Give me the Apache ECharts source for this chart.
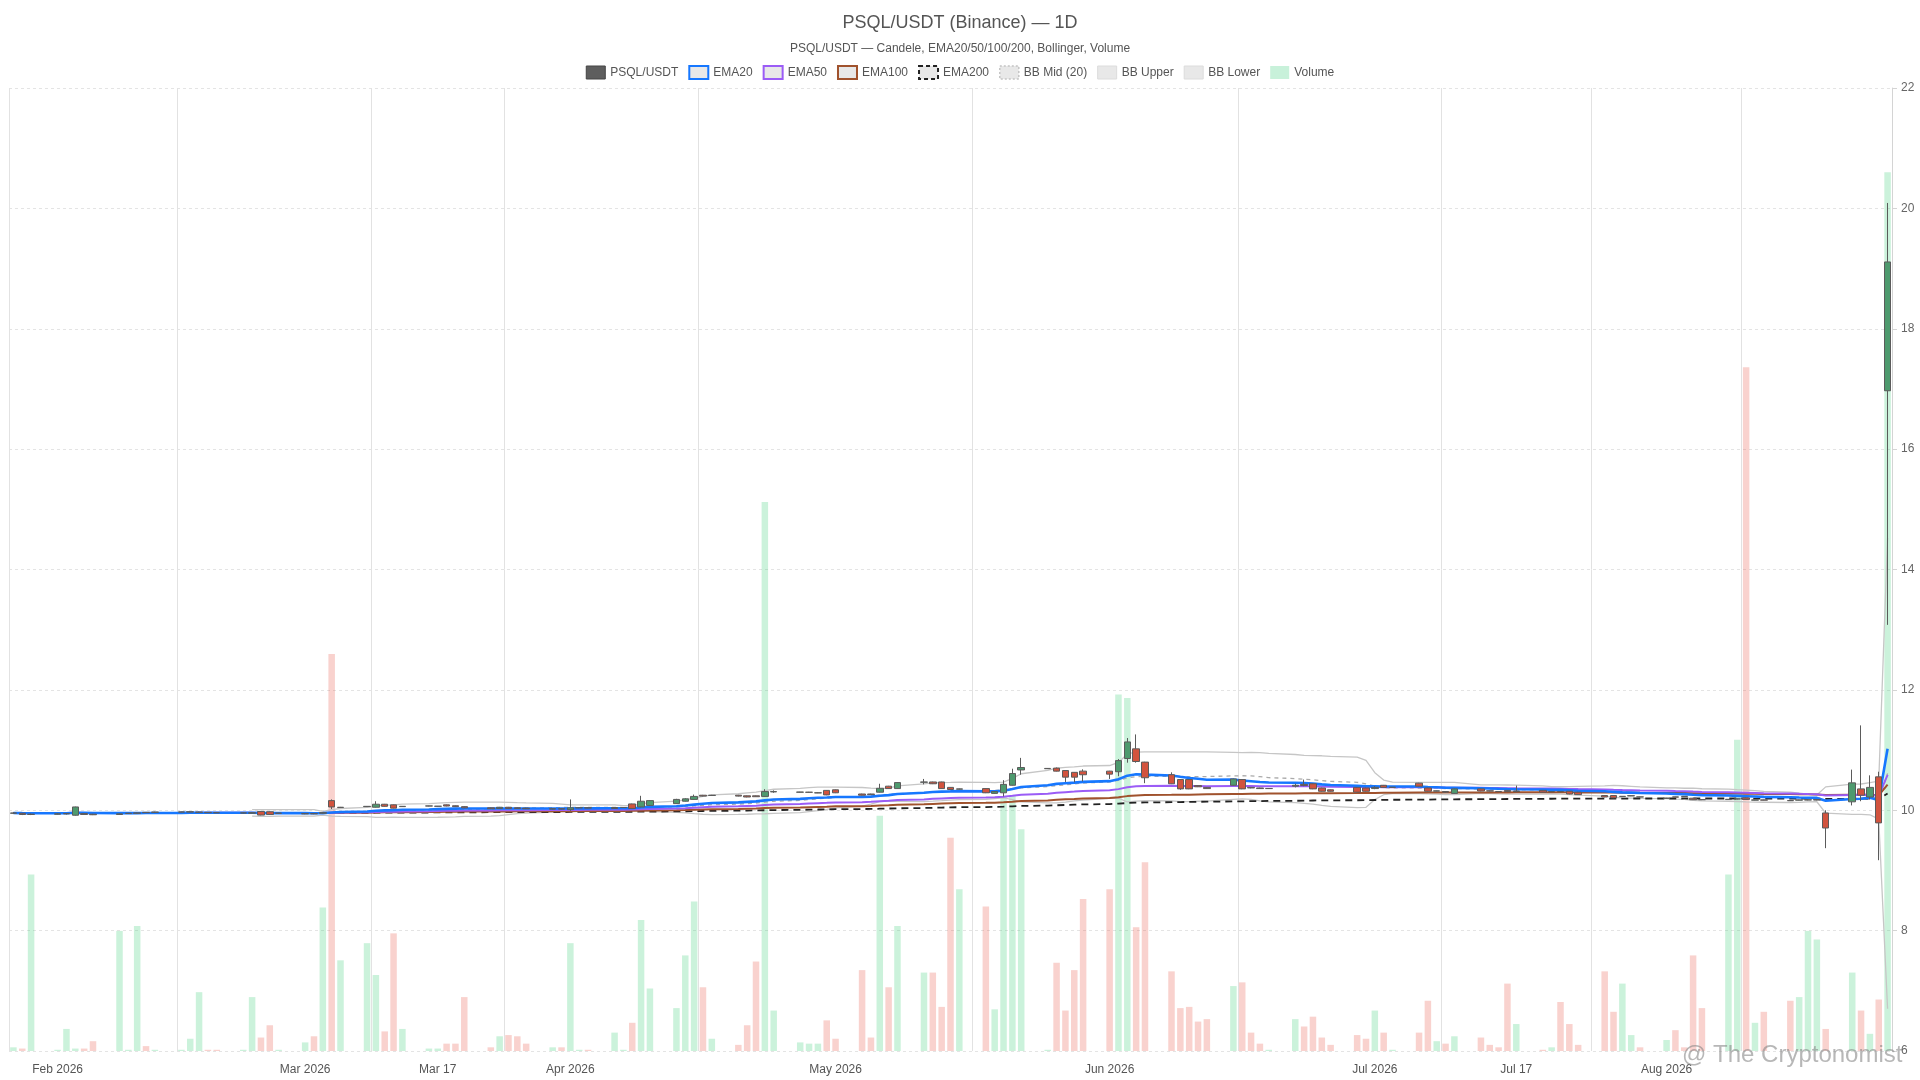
<!DOCTYPE html>
<html><head><meta charset="utf-8">
<script src="https://cdn.jsdelivr.net/npm/echarts@6/dist/echarts.min.js"></script>
<style>html,body{margin:0;padding:0;background:#fff}#chart{width:1920px;height:1080px}</style>
</head><body><div id="chart"></div>
<script>
// [date, open, close, low, high]
const ohlc = [
['2026-01-28',9.95,9.955,9.94,9.965],['2026-01-29',9.95,9.93,9.92,9.955],['2026-01-30',9.93,9.935,9.92,9.945],
['2026-02-02',9.935,9.94,9.93,9.95],['2026-02-03',9.94,9.945,9.93,9.95],['2026-02-04',9.917,10.055,9.91,10.06],['2026-02-05',9.945,9.93,9.925,9.95],['2026-02-06',9.935,9.925,9.92,9.94],
['2026-02-09',9.93,9.94,9.925,9.945],['2026-02-10',9.945,9.95,9.94,9.955],['2026-02-11',9.95,9.955,9.945,9.96],['2026-02-12',9.965,9.96,9.955,9.97],['2026-02-13',9.965,9.97,9.96,9.975],
['2026-02-16',9.97,9.972,9.965,9.975],['2026-02-17',9.97,9.975,9.965,9.98],['2026-02-18',9.965,9.97,9.96,9.975],['2026-02-19',9.965,9.96,9.955,9.97],['2026-02-20',9.96,9.958,9.955,9.965],
['2026-02-23',9.955,9.956,9.95,9.96],['2026-02-24',9.95,9.96,9.945,9.965],['2026-02-25',9.98,9.92,9.915,9.985],['2026-02-26',9.975,9.93,9.925,9.98],['2026-02-27',9.95,9.952,9.945,9.955],
['2026-03-02',9.94,9.945,9.935,9.95],['2026-03-03',9.945,9.94,9.935,9.95],['2026-03-04',9.95,9.96,9.945,9.965],['2026-03-05',10.16,10.055,10.02,10.18],['2026-03-06',10.045,10.05,10.04,10.055],
['2026-03-09',10.06,10.065,10.055,10.07],['2026-03-10',10.05,10.10,10.045,10.15],['2026-03-11',10.10,10.065,10.06,10.105],['2026-03-12',10.09,10.035,10.03,10.095],['2026-03-13',10.06,10.065,10.055,10.07],
['2026-03-16',10.07,10.072,10.065,10.075],['2026-03-17',10.065,10.068,10.06,10.07],['2026-03-18',10.09,10.07,10.065,10.095],['2026-03-19',10.075,10.06,10.055,10.08],['2026-03-20',10.06,10.04,10.035,10.065],
['2026-03-23',10.04,10.025,10.02,10.045],['2026-03-24',10.03,10.05,10.025,10.055],['2026-03-25',10.05,10.03,10.025,10.055],['2026-03-26',10.04,10.03,10.025,10.045],['2026-03-27',10.035,10.025,10.02,10.04],
['2026-03-30',10.02,10.025,10.015,10.03],['2026-03-31',10.025,10.02,10.015,10.03],['2026-04-01',10.01,10.04,9.99,10.18],['2026-04-02',10.04,10.042,10.035,10.05],['2026-04-03',10.04,10.038,10.035,10.045],
['2026-04-06',10.03,10.045,10.025,10.05],['2026-04-07',10.045,10.046,10.04,10.05],['2026-04-08',10.105,10.03,10.025,10.11],['2026-04-09',10.055,10.15,10.05,10.24],['2026-04-10',10.08,10.16,10.075,10.17],
['2026-04-13',10.11,10.18,10.105,10.19],['2026-04-14',10.15,10.19,10.145,10.20],['2026-04-15',10.18,10.23,10.175,10.26],['2026-04-16',10.25,10.235,10.23,10.255],['2026-04-17',10.245,10.25,10.24,10.255],
['2026-04-20',10.25,10.235,10.23,10.255],['2026-04-21',10.24,10.22,10.215,10.245],['2026-04-22',10.24,10.225,10.22,10.245],['2026-04-23',10.23,10.31,10.225,10.35],['2026-04-24',10.305,10.31,10.29,10.33],
['2026-04-27',10.30,10.302,10.295,10.305],['2026-04-28',10.298,10.30,10.295,10.305],['2026-04-29',10.288,10.29,10.285,10.295],['2026-04-30',10.33,10.255,10.25,10.335],['2026-05-01',10.34,10.29,10.285,10.345],
['2026-05-04',10.27,10.25,10.245,10.275],['2026-05-05',10.27,10.26,10.255,10.275],['2026-05-06',10.30,10.365,10.295,10.44],['2026-05-07',10.40,10.36,10.355,10.405],['2026-05-08',10.36,10.46,10.355,10.465],
['2026-05-11',10.465,10.47,10.43,10.52],['2026-05-12',10.47,10.44,10.435,10.475],['2026-05-13',10.47,10.36,10.355,10.475],['2026-05-14',10.38,10.345,10.34,10.385],['2026-05-15',10.35,10.355,10.345,10.36],
['2026-05-18',10.36,10.29,10.285,10.365],['2026-05-19',10.28,10.31,10.275,10.315],['2026-05-20',10.29,10.43,10.23,10.50],['2026-05-21',10.415,10.61,10.41,10.69],['2026-05-22',10.67,10.71,10.59,10.87],
['2026-05-25',10.69,10.695,10.685,10.70],['2026-05-26',10.70,10.65,10.645,10.71],['2026-05-27',10.66,10.55,10.47,10.665],['2026-05-28',10.63,10.55,10.465,10.635],['2026-05-29',10.65,10.59,10.48,10.68],
['2026-06-01',10.65,10.60,10.52,10.655],['2026-06-02',10.64,10.825,10.565,10.85],['2026-06-03',10.86,11.135,10.79,11.20],['2026-06-04',11.02,10.81,10.79,11.26],['2026-06-05',10.80,10.54,10.45,10.805],
['2026-06-08',10.59,10.44,10.435,10.63],['2026-06-09',10.51,10.355,10.34,10.515],['2026-06-10',10.51,10.355,10.35,10.515],['2026-06-11',10.41,10.39,10.385,10.415],['2026-06-12',10.38,10.36,10.355,10.385],
['2026-06-15',10.415,10.52,10.41,10.525],['2026-06-16',10.51,10.355,10.35,10.515],['2026-06-17',10.38,10.37,10.365,10.385],['2026-06-18',10.37,10.36,10.355,10.375],['2026-06-19',10.36,10.362,10.355,10.365],
['2026-06-22',10.40,10.415,10.38,10.44],['2026-06-23',10.43,10.41,10.40,10.51],['2026-06-24',10.44,10.355,10.35,10.445],['2026-06-25',10.37,10.315,10.31,10.375],['2026-06-26',10.34,10.315,10.31,10.345],
['2026-06-29',10.38,10.30,10.295,10.385],['2026-06-30',10.37,10.315,10.31,10.375],['2026-07-01',10.36,10.38,10.35,10.40],['2026-07-02',10.415,10.38,10.375,10.42],['2026-07-03',10.38,10.382,10.375,10.385],
['2026-07-06',10.45,10.40,10.395,10.455],['2026-07-07',10.37,10.315,10.31,10.375],['2026-07-08',10.318,10.322,10.315,10.325],['2026-07-09',10.31,10.30,10.295,10.315],['2026-07-10',10.28,10.355,10.275,10.36],
['2026-07-13',10.355,10.32,10.315,10.36],['2026-07-14',10.322,10.32,10.315,10.325],['2026-07-15',10.312,10.31,10.305,10.315],['2026-07-16',10.33,10.31,10.305,10.335],['2026-07-17',10.31,10.32,10.30,10.41],
['2026-07-20',10.33,10.30,10.295,10.335],['2026-07-21',10.308,10.31,10.305,10.315],['2026-07-22',10.312,10.308,10.30,10.315],['2026-07-23',10.315,10.27,10.265,10.32],['2026-07-24',10.30,10.26,10.255,10.305],
['2026-07-27',10.245,10.22,10.215,10.25],['2026-07-28',10.245,10.205,10.20,10.25],['2026-07-29',10.228,10.232,10.225,10.235],['2026-07-30',10.238,10.242,10.235,10.245],['2026-07-31',10.222,10.22,10.215,10.225],
['2026-08-03',10.198,10.202,10.195,10.205],['2026-08-04',10.222,10.218,10.215,10.225],['2026-08-05',10.232,10.228,10.225,10.235],['2026-08-06',10.20,10.175,10.17,10.205],['2026-08-07',10.177,10.175,10.17,10.18],
['2026-08-10',10.178,10.182,10.175,10.185],['2026-08-11',10.186,10.19,10.18,10.195],['2026-08-12',10.205,10.18,10.175,10.21],['2026-08-13',10.168,10.172,10.165,10.175],['2026-08-14',10.172,10.168,10.165,10.175],
['2026-08-17',10.162,10.158,10.155,10.165],['2026-08-18',10.168,10.172,10.165,10.175],['2026-08-19',10.17,10.174,10.165,10.178],['2026-08-20',10.17,10.175,10.165,10.18],['2026-08-21',9.955,9.705,9.37,10.0],
['2026-08-24',10.14,10.455,10.08,10.675],['2026-08-25',10.355,10.25,10.15,11.41],['2026-08-26',10.22,10.38,10.18,10.58],['2026-08-27',10.555,9.79,9.17,10.64],['2026-08-28',16.97,19.11,13.08,20.09]
];
// volume (thousands), same order as ohlc
const volumes = [
3,2,144,
1,18,2,2,8, 98,1,102,4,1, 1,10,48,1,1, 1,44,11,21,1,
7,12,117,324,74, 88,62,16,96,18, 2,2,6,6,44, 3,12,13,12,6,
3,3,88,1,1, 15,1,23,107,51, 35,78,122,52,10, 5,21,73,448,33,
7,6,6,25,10, 66,11,192,52,102, 64,64,36,174,132, 118,34,207,208,181,
1,72,33,66,124, 132,291,288,101,154, 65,35,36,24,26, 53,56,15,6,1,
26,20,28,11,5, 13,10,33,15,1, 15,41,8,6,12, 11,5,3,55,22,
1,3,40,22,5, 65,32,55,13,3, 9,17,3,78,35, 144,254,558,23,32,
41,44,98,91,18, 64,33,14,42,717
];
const tickDates = ['2026-02-02','2026-03-02','2026-03-17','2026-04-01','2026-05-01','2026-06-01','2026-07-01','2026-07-17','2026-08-03'];
const tickTexts = ['Feb 2026','Mar 2026','Mar 17','Apr 2026','May 2026','Jun 2026','Jul 2026','Jul 17','Aug 2026'];
const gridLineDates = ['2026-01-28','2026-02-16','2026-03-10','2026-03-25','2026-04-16','2026-05-17','2026-06-16','2026-07-09','2026-07-26','2026-08-12'];

// calendar categories from first to last date
const categories = [];
(function(){
  const d = new Date(ohlc[0][0] + 'T00:00:00Z');
  const end = new Date(ohlc[ohlc.length-1][0] + 'T00:00:00Z');
  while (d <= end) { categories.push(d.toISOString().slice(0,10)); d.setUTCDate(d.getUTCDate()+1); }
})();
const rowIdx = new Map(ohlc.map((r,i)=>[r[0],i]));
const closes = ohlc.map(r=>r[2]);

function ema(vals, n){ const k=2/(n+1); let p=vals[0]; return vals.map((v,i)=>{ if(i===0) return v; p = v*k + p*(1-k); return p; }); }
function boll(vals, n, m){
  const mid=[], up=[], lo=[];
  vals.forEach((v,i)=>{
    if(i<n-1){mid.push(null);up.push(null);lo.push(null);return;}
    const w=vals.slice(i-n+1,i+1); const mean=w.reduce((a,b)=>a+b,0)/n;
    const sd=Math.sqrt(w.reduce((a,b)=>a+(b-mean)*(b-mean),0)/n);
    mid.push(mean); up.push(mean+m*sd); lo.push(mean-m*sd);
  });
  return {mid,up,lo};
}
const toCat = arr => categories.map(d => { const i=rowIdx.get(d); return (i===undefined||arr[i]==null)?'-':+arr[i].toFixed(4); });

const candleData = categories.map(d => { const i=rowIdx.get(d); if(i===undefined) return ['-','-','-','-']; const r=ohlc[i]; return [r[1],r[2],r[3],r[4]]; });
const volData = categories.map(d => { const i=rowIdx.get(d); if(i===undefined) return '-'; const r=ohlc[i];
  return {value: volumes[i], itemStyle:{color: r[2]>=r[1] ? 'rgba(46,204,113,0.25)' : 'rgba(231,76,60,0.25)'}}; });
const bb = boll(closes,20,2);

const FONT = '"Liberation Sans", Arial, Helvetica, sans-serif';
const chart = echarts.init(document.getElementById('chart'));
const lineBase = {type:'line', showSymbol:false, symbol:'none', connectNulls:true, silent:true, z:4};
chart.setOption({
  animation:false,
  backgroundColor:'#fff',
  textStyle:{fontFamily:FONT},
  title:{text:'PSQL/USDT (Binance) — 1D', subtext:'PSQL/USDT — Candele, EMA20/50/100/200, Bollinger, Volume',
    left:'center', top:9, itemGap:11,
    textStyle:{fontSize:18, fontWeight:'normal', color:'#555', fontFamily:FONT},
    subtextStyle:{fontSize:12, color:'#555', fontFamily:FONT}},
  legend:{top:60, left:'center', itemWidth:19, itemHeight:13, itemGap:10,
    textStyle:{color:'#555', fontSize:12, fontFamily:FONT},
    data:[
      {name:'PSQL/USDT', icon:'rect', itemStyle:{color:'#5e5e5e', borderColor:'#444', borderWidth:1}},
      {name:'EMA20', icon:'rect', itemStyle:{color:'#e8e8e8', borderColor:'#1677ff', borderWidth:2}},
      {name:'EMA50', icon:'rect', itemStyle:{color:'#e8e8e8', borderColor:'#9b5cf6', borderWidth:2}},
      {name:'EMA100', icon:'rect', itemStyle:{color:'#e8e8e8', borderColor:'#a0522d', borderWidth:2}},
      {name:'EMA200', icon:'rect', itemStyle:{color:'#e8e8e8', borderColor:'#222', borderWidth:2, borderType:[4,3]}},
      {name:'BB Mid (20)', icon:'rect', itemStyle:{color:'#e8e8e8', borderColor:'#c4c4c4', borderWidth:1.5, borderType:[2,2]}},
      {name:'BB Upper', icon:'rect', itemStyle:{color:'#e8e8e8', borderColor:'#dcdcdc', borderWidth:1}},
      {name:'BB Lower', icon:'rect', itemStyle:{color:'#e8e8e8', borderColor:'#dcdcdc', borderWidth:1}},
      {name:'Volume', icon:'rect', itemStyle:{color:'#c8f1da', borderWidth:0}}
    ]},
  grid:{left:9, right:28, top:88, bottom:29, containLabel:false},
  xAxis:{type:'category', data:categories, boundaryGap:true,
    axisLine:{show:false}, axisTick:{show:false},
    axisLabel:{color:'#555', fontSize:12, margin:13,
      interval:(i,v)=>tickDates.includes(v),
      formatter:v=>{const k=tickDates.indexOf(v); return k>=0?tickTexts[k]:'';}},
    splitLine:{show:true, interval:(i,v)=>gridLineDates.includes(v), lineStyle:{color:'#e2e2e2', width:1}}},
  yAxis:[
    {type:'value', position:'right', min:6, max:22, interval:2,
      axisLine:{show:true, lineStyle:{color:'#d4d4d4'}},
      axisTick:{show:true, length:5, lineStyle:{color:'#d4d4d4'}},
      axisLabel:{color:'#666', fontSize:12, margin:9},
      splitLine:{show:true, lineStyle:{color:'#e4e4e4', type:[3,3]}}},
    {type:'value', show:false, min:0, max:v=>v.max*1.096, splitLine:{show:false}}
  ],
  series:[
    {name:'Volume', type:'bar', yAxisIndex:1, data:volData, barWidth:6.5, z:1, silent:true, itemStyle:{color:'#c8f1da'}},
    Object.assign({}, lineBase, {name:'BB Upper', data:toCat(bb.up), itemStyle:{color:'#c6c6c6'}, lineStyle:{color:'#c6c6c6', width:1.3}}),
    Object.assign({}, lineBase, {name:'BB Lower', data:toCat(bb.lo), itemStyle:{color:'#c6c6c6'}, lineStyle:{color:'#c6c6c6', width:1.3}}),
    Object.assign({}, lineBase, {name:'BB Mid (20)', data:toCat(bb.mid), itemStyle:{color:'#aaa'}, lineStyle:{color:'#aaa', width:1.3, type:[4,4]}}),
    Object.assign({}, lineBase, {name:'EMA200', data:toCat(ema(closes,200)), itemStyle:{color:'#222'}, lineStyle:{color:'#222', width:1.8, type:[7,5]}}),
    Object.assign({}, lineBase, {name:'EMA100', data:toCat(ema(closes,100)), itemStyle:{color:'#a0522d'}, lineStyle:{color:'#a0522d', width:2}}),
    Object.assign({}, lineBase, {name:'EMA50', data:toCat(ema(closes,50)), itemStyle:{color:'#9b5cf6'}, lineStyle:{color:'#9b5cf6', width:2}}),
    Object.assign({}, lineBase, {name:'EMA20', data:toCat(ema(closes,20)), itemStyle:{color:'#1677ff'}, lineStyle:{color:'#1677ff', width:2.6}}),
    {name:'PSQL/USDT', type:'candlestick', data:candleData, barWidth:7, z:5, silent:true,
      itemStyle:{color:'#4e9a6e', color0:'#d2533e', borderColor:'#5b5b5b', borderColor0:'#5b5b5b', borderWidth:1}}
  ],
  graphic:[{type:'text', left:1682, top:1043, z:100, silent:true,
    style:{text:'@ The Cryptonomist', font:'24px "Liberation Sans", Arial, sans-serif', fill:'rgba(135,135,135,0.6)'}}]
});
</script></body></html>
